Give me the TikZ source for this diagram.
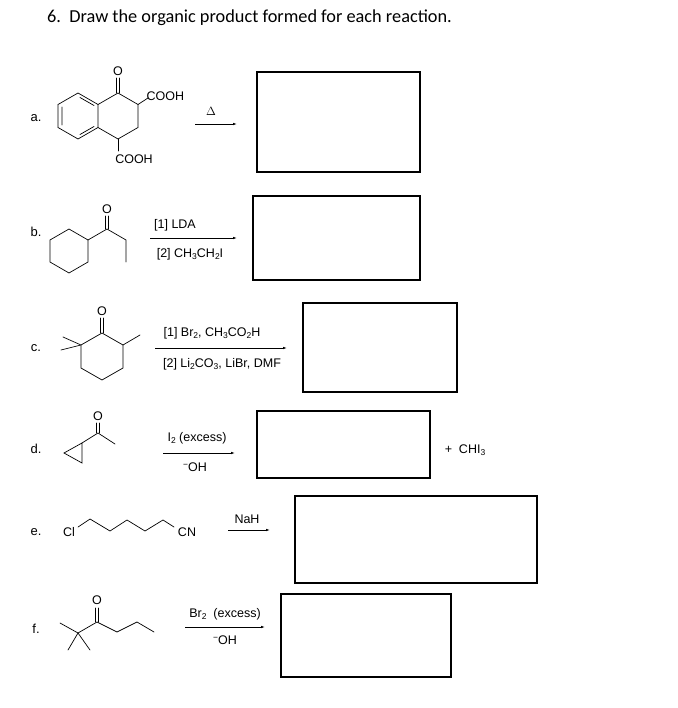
\documentclass[tikz,border=0pt]{standalone}
\usepackage{fontspec}
\setmainfont{Liberation Sans}
\newfontfamily\calib{Carlito}
\usetikzlibrary{arrows.meta}
\newcommand{\sbs}[1]{\raisebox{-0.35ex}{\fontsize{8.5}{9}\selectfont #1}}
\newcommand{\sps}[1]{\raisebox{0.6ex}{\fontsize{8.5}{9}\selectfont #1}}
\begin{document}
\begin{tikzpicture}[x=1pt,y=-1pt,
  bond/.style={line width=0.7pt,line cap=round},
  box/.style={draw,line width=1.6pt},
  rxn/.style={line width=0.7pt,-{Latex[length=4pt,width=2.5pt]}},
  lab/.style={font=\fontsize{12.5}{14}\selectfont,inner sep=0pt},
  atom/.style={font=\fontsize{12.5}{14}\selectfont,inner sep=0.5pt},
  letter/.style={font=\fontsize{13}{14}\selectfont,inner sep=0pt}]
\useasboundingbox (0,0) rectangle (677,708);
\node[anchor=west,font=\calib\fontsize{18.3}{20}\selectfont,inner sep=0pt] (title) at (47,18) {6.\ \ Draw the organic product formed for each reaction.};
% letters
\node[letter] (la) at (36,118) {a.};
\node[letter] (lb) at (36,232) {b.};
\node[letter] (lc) at (36,348) {c.};
\node[letter] (ld) at (36,449) {d.};
\node[letter] (le) at (36,532) {e.};
\node[letter] (lf) at (36,629) {f.};
% boxes
\draw[box] (257,72) rectangle (420,172);
\draw[box] (253,196) rectangle (420,280);
\draw[box] (303,303) rectangle (457,392);
\draw[box] (257,411) rectangle (430,478);
\draw[box] (295,496) rectangle (537,583);
\draw[box] (281,594) rectangle (451,677);
% a
\draw[bond] (58,104.5)--(78,93)--(98,104.5)--(98,127.5)--(78,139)--(58,127.5)--cycle;
\draw[bond] (62,107)--(62,125) (80,97.5)--(94,105.5) (80,134.5)--(94,126.5);
\draw[bond] (98,104.5)--(118,93)--(138,104.5)--(138,127.5)--(118,139)--(98,127.5);
\draw[bond] (116.5,93)--(116.5,78) (119.5,93)--(119.5,78);
\node[atom] (oa) at (118,71) {O};
\draw[bond] (138,104.5)--(148,98);
\node[atom,anchor=west] (ca1) at (146,96) {COOH};
\draw[bond] (118,139)--(118,151);
\node[atom] (ca2) at (134,159) {COOH};
\draw[rxn] (195,124)--(237,124);
\node[lab] (da) at (211,111) {$\Delta$};
% b
\draw[bond] (50,240)--(69,229)--(88,240)--(88,262)--(69,273)--(50,262)--cycle;
\draw[bond] (88,240)--(107,229)--(126,240)--(126,262);
\draw[bond] (105.5,229)--(105.5,216) (108.5,229)--(108.5,216);
\node[atom] (ob) at (107,209) {O};
\draw[rxn] (150,238)--(237,238);
\node[lab] (rb1) at (175,225) {[1] LDA};
\node[lab] (rb2) at (190,254) {[2] CH\sbs{3}CH\sbs{2}I};
% c
\draw[bond] (102,333)--(123,345)--(123,368)--(102,380)--(81,368)--(81,345)--cycle;
\draw[bond] (100.5,333)--(100.5,318) (103.5,333)--(103.5,318);
\node[atom] (oc) at (102,311) {O};
\draw[bond] (123,345)--(140,335);
\draw[bond] (81,345)--(63,337) (81,345)--(61,350);
\draw[rxn] (155,348)--(287,348);
\node[lab] (rc1) at (212,333) {[1] Br\sbs{2}, CH\sbs{3}CO\sbs{2}H};
\node[lab] (rc2) at (222,364) {[2] Li\sbs{2}CO\sbs{3}, LiBr, DMF};
% d
\draw[bond] (82,443)--(98,433)--(115,444);
\draw[bond] (96.5,433)--(96.5,423) (99.5,433)--(99.5,423);
\node[atom] (od) at (98,416) {O};
\draw[bond] (82,443)--(64,453)--(82,463)--cycle;
\draw[rxn] (163,453)--(235,453);
\node[lab] (rd1) at (197,438) {I\sbs{2} (excess)};
\node[lab] (rd2) at (195,467) {\sps{−}OH};
\node[lab] (chi) at (465,450) {+\ \ CHI\sbs{3}};
% e
\node[atom] (cl) at (69,532) {Cl};
\draw[bond] (78,527)--(90,519)--(110,531)--(127,520)--(145,531)--(163,520)--(174,527);
\node[atom] (cn) at (187,532) {CN};
\draw[rxn] (228,530)--(270,530);
\node[lab] (re) at (247,519) {NaH};
% f
\draw[bond] (78,633)--(97,622)--(117,632)--(137,622)--(154,632);
\draw[bond] (95.5,622)--(95.5,608) (98.5,622)--(98.5,608);
\node[atom] (of) at (97,600) {O};
\draw[bond] (78,633)--(60,623) (78,633)--(68,650) (78,633)--(90,650);
\draw[rxn] (185,627)--(265,627);
\node[lab] (rf1) at (225,614) {Br\sbs{2}\ \ (excess)};
\node[lab] (rf2) at (225,640) {\sps{−}OH};
\end{tikzpicture}
\end{document}
